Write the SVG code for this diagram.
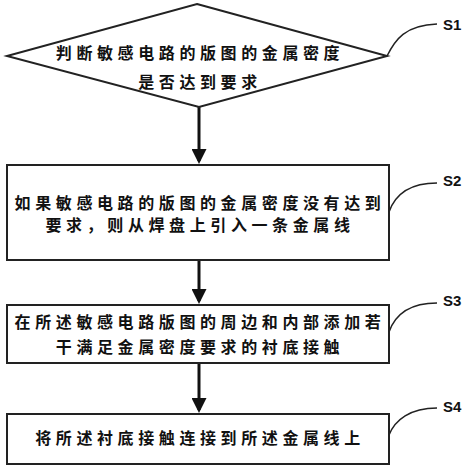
<svg xmlns="http://www.w3.org/2000/svg" width="474" height="471" viewBox="0 0 474 471">
<style>
.s{fill:#fff;stroke:#222;stroke-width:2}
.t{font-family:"Noto Sans CJK SC","Noto Sans",sans-serif;font-weight:bold;font-size:16px;fill:#111;letter-spacing:4.6px;text-anchor:middle}
.l{font-family:"Liberation Sans",sans-serif;font-weight:bold;font-size:15px;fill:#111}
.c{fill:none;stroke:#222;stroke-width:1.5}
.a{stroke:#111;stroke-width:3;fill:none}
</style>
<defs>
<marker id="ah" markerWidth="5" markerHeight="5" refX="4" refY="2.5" orient="auto" markerUnits="strokeWidth">
<path d="M0,0 L5,2.5 L0,5 Z" fill="#111"/>
</marker>
</defs>
<rect width="474" height="471" fill="#fff"/>
<g id="connectors">
<line class="a" x1="199" y1="107" x2="199" y2="161" marker-end="url(#ah)"/>
<line class="a" x1="199" y1="260" x2="199" y2="301" marker-end="url(#ah)"/>
<line class="a" x1="199" y1="363" x2="199" y2="410" marker-end="url(#ah)"/>
</g>
<g id="S1">
<polygon class="s" points="197,4 387,56 199,107 7,56"/>
<text class="t" x="200" y="59">判断敏感电路的版图的金属密度</text>
<text class="t" x="200" y="88">是否达到要求</text>
<path class="c" d="M387,56 C395,40 405,25 437,24"/>
<text class="l" x="443" y="30">S1</text>
</g>
<g id="S2">
<rect class="s" x="7" y="165" width="382" height="95"/>
<text class="t" x="200" y="209">如果敏感电路的版图的金属密度没有达到</text>
<text class="t" x="200" y="231">要求，则从焊盘上引入一条金属线</text>
<path class="c" d="M389,212 C395,195 410,183 437,183"/>
<text class="l" x="443" y="186">S2</text>
</g>
<g id="S3">
<rect class="s" x="7" y="305" width="382" height="58"/>
<text class="t" x="200" y="328">在所述敏感电路版图的周边和内部添加若</text>
<text class="t" x="200" y="353">干满足金属密度要求的衬底接触</text>
<path class="c" d="M389,332 C395,315 410,303 437,303"/>
<text class="l" x="443" y="306">S3</text>
</g>
<g id="S4">
<rect class="s" x="7" y="414" width="382" height="50"/>
<text class="t" x="200" y="444">将所述衬底接触连接到所述金属线上</text>
<path class="c" d="M389,435 C395,420 410,408 437,408"/>
<text class="l" x="443" y="412">S4</text>
</g>
</svg>
